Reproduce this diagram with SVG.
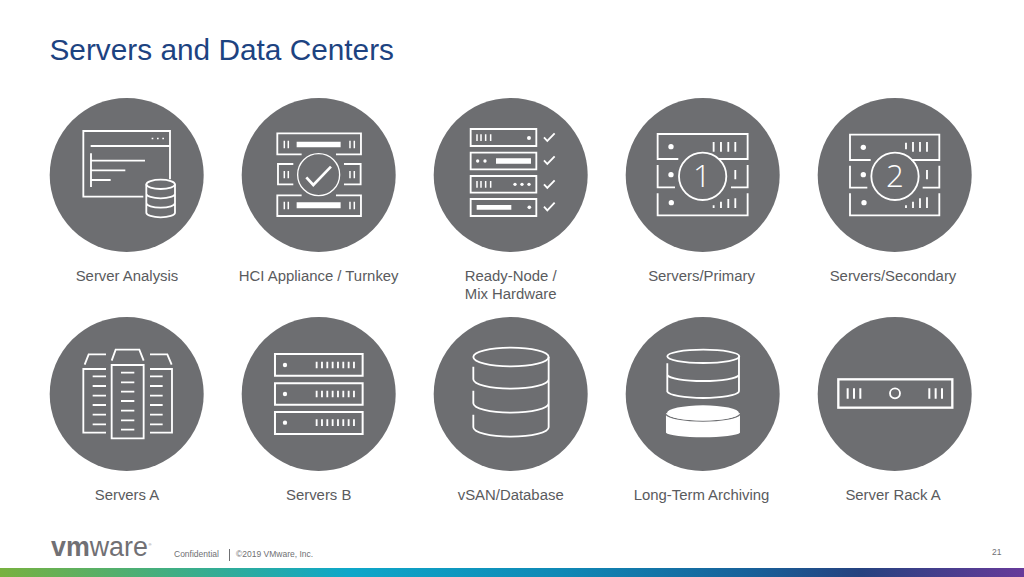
<svg xmlns="http://www.w3.org/2000/svg" width="1024" height="577" viewBox="0 0 1024 577">
<style>
text{font-family:"Liberation Sans",Arial,sans-serif}
.c{fill:#6d6e71}
.l{font-size:14.9px;fill:#5a5b5e;text-anchor:middle}
.i{fill:none;stroke:#fff;stroke-width:5.500}
.t{stroke-width:4.500}
.w{fill:#fff;stroke:none}
.n{font-family:"Open Sans","Liberation Sans",sans-serif;font-weight:300;font-size:94px;fill:#fff;stroke:none;text-anchor:middle}
.f{font-size:8.500px;fill:#6f7073}
</style>
<defs>
<linearGradient id="bar" x1="0" x2="1" y1="0" y2="0">
<stop offset="0" stop-color="#78b13f"/><stop offset="0.17" stop-color="#3fae84"/><stop offset="0.34" stop-color="#0ea7c9"/><stop offset="0.55" stop-color="#0f88b5"/><stop offset="0.73" stop-color="#17619a"/><stop offset="0.84" stop-color="#25427f"/><stop offset="1" stop-color="#673a9a"/>
</linearGradient>
<g id="chk"><path class="i" d="M357,142L367,153L389,130"/></g>
</defs>
<rect width="1024" height="577" fill="#fff"/>
<text id="title" x="49.500" y="60" font-size="29.800" fill="#1d4381">Servers and Data Centers</text>

<g id="server-analysis">
<circle class="c" cx="126.700" cy="175" r="77"/>
<g transform="translate(40 90) scale(.3333)">
<path class="i" d="M310,320H130V123H390V268M152,168H388M153,190V291M153,212H315M153,241H256M153,270H212"/>
<path class="w" d="M335,143h5v5h-5zM351,143h5v5h-5zM367,143h5v5h-5z"/>
<ellipse class="i" cx="362" cy="283" rx="43" ry="14"/>
<path class="i" d="M319,283V368A43,14 0 0 0 405,368V283M319,311A43,14 0 0 0 405,311M319,339A43,14 0 0 0 405,339"/>
</g>
<text class="l" x="127" y="280.500">Server Analysis</text>
</g>

<g id="hci-appliance">
<circle class="c" cx="318.700" cy="175" r="77"/>
<g transform="translate(40 90) scale(.3333)">
<path class="i" d="M785,193H712V130H963V193H888M760,222H714V283H760M912,222H962V283H912M785,316H712V378H963V316H888"/>
<path class="w" d="M770,155H902V172H770zM770,337H902V355H770z"/>
<path class="i t" d="M733,152V175M745,152V175M930,152V175M943,152V175M733,243V265M745,243V265M930,243V265M943,243V265M733,335V358M745,335V358M930,335V358M943,335V358"/>
<circle class="i" style="stroke-width:4" cx="836" cy="254" r="63"/>
<path class="i" style="stroke-width:8" d="M799,262L820,285L873,230"/>
</g>
<text class="l" x="318.700" y="280.500">HCI Appliance / Turnkey</text>
</g>

<g id="ready-node">
<circle class="c" cx="510.700" cy="175" r="77"/>
<g transform="translate(425 90) scale(.3333)">
<path class="i" d="M137,117H334V168H137zM137,188H334V238H137zM137,258H334V308H137zM137,327H334V378H137z"/>
<path class="i t" d="M156,133V153M168,133V153M182,133V153M197,133V153M156,273V293M168,273V293M182,273V293M197,273V293"/>
<path class="w" d="M213,205H318V221H213zM155,345H259V359H155z"/>
<g class="w"><circle cx="312" cy="144" r="6"/><circle cx="158" cy="213" r="5"/><circle cx="180" cy="213" r="5"/><circle cx="270" cy="283" r="5"/><circle cx="291" cy="283" r="5"/><circle cx="312" cy="283" r="5"/><circle cx="313" cy="352" r="5.500"/></g>
<use href="#chk"/><use href="#chk" y="69"/><use href="#chk" y="141"/><use href="#chk" y="208"/>
</g>
<text class="l" x="510.700" y="280.500">Ready-Node /</text>
<text class="l" x="510.700" y="298.500">Mix Hardware</text>
</g>

<g id="servers-primary">
<circle class="c" cx="702.700" cy="175" r="77"/>
<g transform="translate(425 90) scale(.3333)">
<path class="i" d="M760,207H698V132H968V207H882M698,225V292H750M968,225V292H918M698,310V376H968V310"/>
<path class="i" d="M866,156V185M888,156V185M910,156V185M931,156V185M931,240V268M866,346V354M888,335V354M910,327V354M931,325V354"/>
<g class="w"><circle cx="738" cy="170" r="8"/><circle cx="738" cy="254" r="8"/><circle cx="739" cy="338" r="8"/></g>
<circle class="i" cx="833" cy="259" r="71"/>
<text class="n" x="831" y="292">1</text>
</g>
<text class="l" x="701.500" y="280.500">Servers/Primary</text>
</g>

<g id="servers-secondary">
<circle class="c" cx="894.700" cy="175" r="77"/>
<g transform="translate(810 90) scale(.3333)">
<path class="i" d="M182,210H120V134H388V210H304M120,227V293H172M388,227V293H338M120,310V376H388V310"/>
<path class="i" d="M288,158V178M309,156V185M330,156V185M351,156V185M351,240V268M288,346V354M309,335V354M330,325V354M351,322V354"/>
<g class="w"><circle cx="160" cy="172" r="8"/><circle cx="160" cy="254" r="8"/><circle cx="162" cy="338" r="8"/></g>
<circle class="i" cx="255" cy="259" r="71"/>
<text class="n" x="255" y="292">2</text>
</g>
<text class="l" x="893" y="280.500">Servers/Secondary</text>
</g>

<g id="servers-a">
<circle class="c" cx="126.700" cy="394" r="77"/>
<g transform="translate(40 310) scale(.3333)">
<path class="i" d="M198,177H130V368H198M134,164L146,133H198M215,165H311V385H215zM215,152L227,119H298L311,152M330,177H396V368H330M330,133H382L395,164"/>
<path class="i" d="M158,199H198M158,228H198M158,257H198M158,285H198M158,314H198M158,343H198M243,188H283M243,217H283M243,245H283M243,273H283M243,302H283M243,331H283M243,359H283M330,199H368M330,228H368M330,257H368M330,285H368M330,314H368M330,343H368"/>
</g>
<text class="l" x="127" y="499.500">Servers A</text>
</g>

<g id="servers-b">
<circle class="c" cx="318.700" cy="394" r="77"/>
<g transform="translate(40 310) scale(.3333)">
<path class="i" style="stroke-width:6" d="M705,132H968V197H705zM705,220H968V284H705zM705,306H968V372H705z"/>
<g class="w"><circle cx="735" cy="165" r="6.500"/><circle cx="735" cy="252" r="6.500"/><circle cx="735" cy="338" r="6.500"/></g>
<path class="i" d="M830,155V175M846,155V175M862,155V175M878,155V175M894,155V175M910,155V175M926,155V175M942,155V175M830,242V262M846,242V262M862,242V262M878,242V262M894,242V262M910,242V262M926,242V262M942,242V262M830,328V348M846,328V348M862,328V348M878,328V348M894,328V348M910,328V348M926,328V348M942,328V348"/>
</g>
<text class="l" x="318.700" y="499.500">Servers B</text>
</g>

<g id="vsan-database">
<circle class="c" cx="510.700" cy="394" r="77"/>
<g transform="translate(425 310) scale(.3333)">
<ellipse class="i" cx="258" cy="141" rx="113" ry="28"/>
<path class="i" d="M371,141V352M145,170V208A113,28 0 0 0 371,208M145,242V280A113,28 0 0 0 371,280M145,314V352A113,28 0 0 0 371,352"/>
</g>
<text class="l" x="510.700" y="499.500">vSAN/Database</text>
</g>

<g id="long-term-archiving">
<circle class="c" cx="702.700" cy="394" r="77"/>
<g transform="translate(425 310) scale(.3333)">
<ellipse class="i" cx="835" cy="139" rx="108" ry="20"/>
<path class="i" d="M942,139V245M727,160V245A108,21 0 0 0 942,245M727,195A108,20 0 0 0 942,195"/>
<path class="w" d="M723,310V368A112,16 0 0 0 945,368V310Z"/>
<path fill="none" stroke="#6d6e71" stroke-width="4" d="M723,313A112,23 0 0 0 945,313"/>
<ellipse class="w" cx="834" cy="309" rx="108" ry="23"/>
</g>
<text class="l" x="701.500" y="499.500">Long-Term Archiving</text>
</g>

<g id="server-rack-a">
<circle class="c" cx="894.700" cy="394" r="77"/>
<g transform="translate(810 350) scale(.3333)">
<rect class="i" style="stroke-width:7" x="85" y="88" width="342" height="85"/>
<path class="i" style="stroke-width:6" d="M113,115V146M132,115V146M151,115V146M358,115V146M377,115V146M396,115V146"/>
<circle class="i" cx="255" cy="130" r="15"/>
</g>
<text class="l" x="893" y="499.500">Server Rack A</text>
</g>

<g id="footer">
<text x="51" y="555.500" font-family="'Open Sans','Liberation Sans',sans-serif" font-size="26.800" fill="#717074"><tspan font-weight="800">vm</tspan><tspan font-weight="300">ware</tspan></text>
<text x="148.500" y="546" font-size="4" fill="#717074">®</text>
<text class="f" x="174" y="557">Confidential</text>
<path d="M229.500,549V561" stroke="#6f7073" stroke-width="1"/>
<text class="f" x="236" y="557">©2019 VMware, Inc.</text>
<text class="f" x="992" y="554.500">21</text>
</g>
<rect id="bar-strip" y="568" width="1024" height="9" fill="url(#bar)"/>
</svg>
